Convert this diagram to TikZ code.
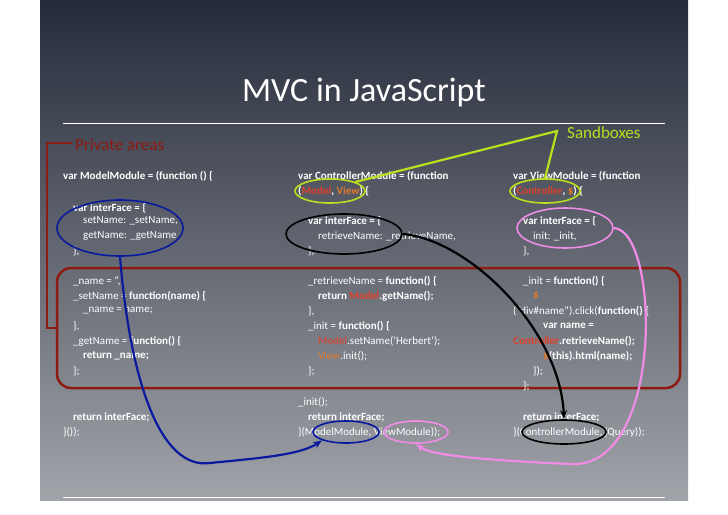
\documentclass[tikz,border=0pt]{standalone}
\usepackage{fontspec}
\setmainfont{Carlito}
\usetikzlibrary{arrows.meta,shapes.geometric}
\definecolor{jsred}{HTML}{E0402A}
\definecolor{jsorange}{HTML}{E07A2A}
\definecolor{boxred}{HTML}{8E1A12}
\definecolor{sandg}{HTML}{B8E01E}
\definecolor{pinkc}{HTML}{F08CE6}
\definecolor{bluec}{HTML}{0A1A9E}
\definecolor{bgtop}{HTML}{252B3A}
\definecolor{bgbot}{HTML}{A0A3A8}
\tikzset{
 code/.style={anchor=west,inner sep=0pt,text=white,font=\fontsize{11}{12}\selectfont},
 ring/.style={draw,ellipse,line width=1.6pt,minimum width=#1},
}
\begin{document}
\begin{tikzpicture}[x=1pt,y=-1pt]
\useasboundingbox (0,0) rectangle (728,514);
\fill[white] (0,0) rectangle (728,514);
\shade[top color=bgtop, bottom color=bgbot] (40,0) rectangle (688,500);
\draw[white!80] (63,123) -- (665,123);
\draw[white!80] (63,497) -- (665,497);
\node[text=white,font=\fontsize{34}{36}\selectfont] (title) at (364,93) {MVC in JavaScript};
\node[text=boxred,font=\fontsize{17}{18}\selectfont,anchor=west,inner sep=0pt] (priv) at (75,145) {Private areas};
\node[text=sandg,font=\fontsize{17}{18}\selectfont,anchor=west,inner sep=0pt] (sand) at (567,133) {Sandboxes};
\draw[boxred,line width=2.5pt,rounded corners=14pt] (57,268) rectangle (680,388);
\draw[boxred,line width=2.5pt] (72,143) -- (47,143) -- (47,328) -- (57,328);
% left
\node[code] (l1) at (63,176) {\textbf{var ModelModule = (function () \{}};
\node[code] at (73,208) {\textbf{var interFace = \{}};
\node[code] at (83,221) {setName: \_setName,};
\node[code] at (83,236) {getName: \_getName};
\node[code] at (73,251) {\},};
\node[code] at (73,281) {\_name = '',};
\node[code] at (73,296) {\_setName = \textbf{function(name) \{}};
\node[code] at (83,311) {\_name = name;};
\node[code] at (73,326) {\},};
\node[code] at (73,341) {\_getName = \textbf{function() \{}};
\node[code] at (83,356) {\textbf{return \_name;}};
\node[code] at (73,371) {\};};
\node[code] at (73,417) {\textbf{return interFace;}};
\node[code] at (63,432) {\}());};
% middle
\node[code] at (298,176) {\textbf{var ControllerModule = (function}};
\node[code] at (298,191) {\textbf{(\textcolor{jsred}{Model}, \textcolor{jsorange}{View}) \{}};
\node[code] at (308,221) {\textbf{var interFace = \{}};
\node[code] at (318,236) {retrieveName: \_retrieveName,};
\node[code] at (308,251) {\},};
\node[code] at (308,281) {\_retrieveName = \textbf{function() \{}};
\node[code] at (318,296) {\textbf{return \textcolor{jsred}{Model}.getName();}};
\node[code] at (308,311) {\},};
\node[code] at (308,326) {\_init = \textbf{function() \{}};
\node[code] at (318,341) {\textcolor{jsred}{Model}.setName('Herbert');};
\node[code] at (318,356) {\textcolor{jsorange}{View}.init();};
\node[code] at (308,371) {\};};
\node[code] at (298,402) {\_init();};
\node[code] at (308,417) {\textbf{return interFace;}};
\node[code] at (298,432) {\}(ModelModule, ViewModule));};
% right
\node[code] at (513,176) {\textbf{var ViewModule = (function}};
\node[code] at (513,191) {\textbf{(\textcolor{jsred}{Controller}, \textcolor{jsorange}{\$}) \{}};
\node[code] at (523,221) {\textbf{var interFace = \{}};
\node[code] at (533,236) {init: \_init,};
\node[code] at (523,251) {\},};
\node[code] at (523,281) {\_init = \textbf{function() \{}};
\node[code] at (533,296) {\textbf{\textcolor{jsorange}{\$}}};
\node[code] at (513,311) {("div\#name").click(\textbf{function() \{}};
\node[code] at (543,326) {\textbf{var name =}};
\node[code] at (513,341) {\textbf{\textcolor{jsred}{Controller}.retrieveName();}};
\node[code] at (543,356) {\textbf{\textcolor{jsorange}{\$}(this).html(name);}};
\node[code] at (533,371) {\});};
\node[code] at (523,386) {\};};
\node[code] at (523,417) {\textbf{return interFace;}};
\node[code] at (513,432) {\}(ControllerModule, jQuery));};
% ellipses
\node[ring=70pt,minimum height=24pt,sandg] (gm) at (330,191) {};
\node[ring=70pt,minimum height=24pt,sandg] (gv) at (545,191) {};
\node[ring=126pt,minimum height=56pt,bluec] (bi) at (120,228) {};
\node[ring=66pt,minimum height=22pt,bluec] (bm) at (346,432) {};
\node[ring=116pt,minimum height=40pt,black] (ki) at (344,234) {};
\node[ring=84pt,minimum height=24pt,black] (kc) at (564,432) {};
\node[ring=96pt,minimum height=40pt,pinkc] (pi) at (565,228) {};
\node[ring=64pt,minimum height=22pt,pinkc] (pv) at (416,432) {};
% sandbox pointers
\coordinate (sp) at (557,131);
\draw[sandg,line width=2.2pt] (gm.north east) -- (sp) -- (gv.north);
% connectors
\draw[bluec,line width=2.2pt,-{Stealth[length=9pt]}] (bi.south) .. controls (130,380) and (160,470) .. (210,463) .. controls (260,458) and (300,455) .. (bm.south west);
\draw[black,line width=2.2pt,-{Stealth[length=9pt]}] (ki.east) .. controls (470,240) and (560,330) .. (kc.north);
\draw[pinkc,line width=2.2pt,-{Stealth[length=9pt]}] (pi.east) .. controls (660,230) and (665,470) .. (570,464) .. controls (480,460) and (430,455) .. (pv.south);
\end{tikzpicture}
\end{document}
